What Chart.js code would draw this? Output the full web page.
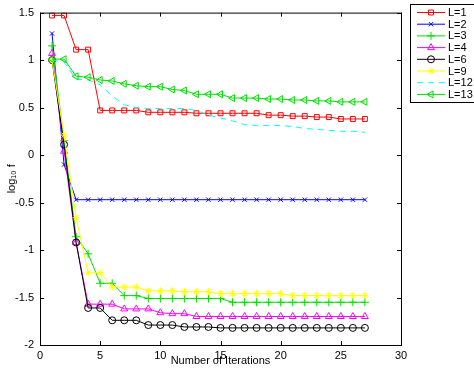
<!DOCTYPE html>
<html lang="en">
<head>
    <meta charset="UTF-8">
    <title>log10 f vs Number of Iterations</title>
    <script src="https://cdn.jsdelivr.net/npm/chart.js"></script>
    <style>
        body, html {
            margin: 0;
            padding: 0;
            width: 474px;
            height: 368px;
            overflow: hidden;
            background: #fff;
            font-family: "Liberation Sans", Arial, sans-serif;
        }
        #wrap { width: 474px; height: 368px; }
    </style>
</head>
<body>
<div id="wrap"><canvas id="iterChart"></canvas></div>
<script>
const iterations = [1,2,3,4,5,6,7,8,9,10,11,12,13,14,15,16,17,18,19,20,21,22,23,24,25,26,27];
const L1  = [1.47,1.47,1.11,1.11,0.47,0.47,0.47,0.47,0.45,0.45,0.45,0.45,0.44,0.44,0.44,0.44,0.44,0.44,0.42,0.42,0.41,0.41,0.40,0.40,0.38,0.38,0.38];
const L2  = [1.28,-0.10,-0.47,-0.47,-0.47,-0.47,-0.47,-0.47,-0.47,-0.47,-0.47,-0.47,-0.47,-0.47,-0.47,-0.47,-0.47,-0.47,-0.47,-0.47,-0.47,-0.47,-0.47,-0.47,-0.47,-0.47,-0.47];
const L3  = [1.15,0.15,-0.86,-1.04,-1.35,-1.35,-1.48,-1.48,-1.51,-1.51,-1.51,-1.51,-1.51,-1.51,-1.51,-1.55,-1.55,-1.55,-1.55,-1.55,-1.55,-1.55,-1.55,-1.55,-1.55,-1.55,-1.55];
const L4  = [1.07,0.04,-0.92,-1.57,-1.57,-1.57,-1.62,-1.62,-1.62,-1.66,-1.67,-1.67,-1.70,-1.70,-1.70,-1.70,-1.70,-1.70,-1.70,-1.70,-1.70,-1.70,-1.70,-1.70,-1.70,-1.70,-1.70];
const L6  = [1.00,0.11,-0.92,-1.61,-1.61,-1.74,-1.74,-1.74,-1.79,-1.79,-1.79,-1.81,-1.81,-1.81,-1.82,-1.82,-1.82,-1.82,-1.82,-1.82,-1.82,-1.82,-1.82,-1.82,-1.82,-1.82,-1.82];
const L9  = [1.00,0.21,-0.66,-1.24,-1.24,-1.39,-1.39,-1.39,-1.43,-1.43,-1.43,-1.44,-1.44,-1.44,-1.46,-1.46,-1.46,-1.46,-1.46,-1.46,-1.48,-1.48,-1.48,-1.48,-1.48,-1.48,-1.48];
const L12 = [1.00,0.98,0.80,0.79,0.74,0.62,0.53,0.50,0.49,0.49,0.49,0.49,0.47,0.42,0.39,0.36,0.32,0.31,0.31,0.31,0.30,0.28,0.27,0.26,0.25,0.25,0.24];
const L13 = [1.01,1.01,0.83,0.82,0.79,0.78,0.75,0.73,0.72,0.72,0.69,0.68,0.64,0.64,0.64,0.60,0.60,0.60,0.59,0.59,0.58,0.58,0.57,0.57,0.56,0.56,0.56];
const xTicks = [0,5,10,15,20,25,30];
const yTicks = [-2,-1.5,-1,-0.5,0,0.5,1,1.5];

const pts = vals => iterations.map((it, i) => ({ x: it, y: vals[i] }));

const series = [
    { label: 'L=1',  data: L1,  color: '#ff0000', style: 'rect',      fill: false, r: 3.5 },
    { label: 'L=2',  data: L2,  color: '#0000ff', style: 'crossRot',  fill: false, r: 3 },
    { label: 'L=3',  data: L3,  color: '#00dd00', style: 'cross',     fill: false, r: 4 },
    { label: 'L=4',  data: L4,  color: '#ff00ff', style: 'triangle',  fill: false, r: 4 },
    { label: 'L=6',  data: L6,  color: '#000000', style: 'circle',    fill: false, r: 3.5 },
    { label: 'L=9',  data: L9,  color: '#ffff00', style: 'star',      fill: true,  r: 3.5 },
    { label: 'L=12', data: L12, color: '#00ffff', style: false,       fill: false, r: 0, dash: [6, 5] },
    { label: 'L=13', data: L13, color: '#00dd00', style: 'triangle',  fill: false, r: 4, rot: -90 }
];

// matlab style box and inward ticks, plus a boxed legend
const matlabFrame = {
    id: 'matlabFrame',
    afterDraw(chart) {
        const ctx = chart.ctx;
        const a = chart.chartArea;
        const xs = chart.scales.x, ys = chart.scales.y;
        ctx.save();
        ctx.strokeStyle = '#000';
        ctx.lineWidth = 1;
        ctx.strokeRect(a.left + 0.5, a.top + 0.5, a.right - a.left, a.bottom - a.top);
        ctx.beginPath();
        xTicks.forEach(v => {
            const px = Math.round(xs.getPixelForValue(v)) + 0.5;
            ctx.moveTo(px, a.bottom); ctx.lineTo(px, a.bottom - 4);
            ctx.moveTo(px, a.top); ctx.lineTo(px, a.top + 4);
        });
        yTicks.forEach(v => {
            const py = Math.round(ys.getPixelForValue(v)) + 0.5;
            ctx.moveTo(a.left, py); ctx.lineTo(a.left + 4, py);
            ctx.moveTo(a.right, py); ctx.lineTo(a.right - 4, py);
        });
        ctx.stroke();

        // legend
        const lx = 410, ly = 4, lw = 70, lh = 98;
        ctx.fillStyle = '#fff';
        ctx.fillRect(lx + 0.5, ly + 0.5, lw, lh);
        ctx.strokeRect(lx + 0.5, ly + 0.5, lw, lh);
        ctx.font = '11px "Liberation Sans", Arial, sans-serif';
        ctx.textBaseline = 'middle';
        series.forEach((s, i) => {
            const y = 12.5 + i * 11.7;
            ctx.save();
            ctx.strokeStyle = s.color;
            ctx.lineWidth = 1;
            if (s.dash) ctx.setLineDash(s.dash);
            ctx.beginPath();
            ctx.moveTo(417, y); ctx.lineTo(445, y);
            ctx.stroke();
            ctx.restore();
            if (s.style) {
                ctx.save();
                ctx.strokeStyle = s.color;
                ctx.fillStyle = s.fill ? s.color : 'rgba(0,0,0,0)';
                ctx.lineWidth = 1;
                Chart.helpers.drawPoint(ctx, {
                    pointStyle: s.style, radius: s.r, rotation: s.rot || 0, borderWidth: 1
                }, 431, y);
                ctx.restore();
            }
            ctx.fillStyle = '#000';
            ctx.textAlign = 'left';
            ctx.fillText(s.label, 448, y + 0.5);
        });
        ctx.restore();
    }
};

Chart.defaults.font.family = '"Liberation Sans", Arial, sans-serif';
Chart.defaults.font.size = 11;
Chart.defaults.color = '#000';

new Chart(document.getElementById('iterChart'), {
    type: 'line',
    data: {
        datasets: series.map((s, i) => ({
            label: s.label,
            data: pts(s.data),
            borderColor: s.color,
            backgroundColor: s.fill ? s.color : 'rgba(0,0,0,0)',
            pointBorderColor: s.color,
            pointBackgroundColor: s.fill ? s.color : 'rgba(0,0,0,0)',
            pointStyle: s.style,
            pointRadius: s.r,
            pointRotation: s.rot || 0,
            pointBorderWidth: 1,
            borderWidth: 1,
            borderDash: s.dash || [],
            tension: 0,
            fill: false,
            order: series.length - i
        }))
    },
    options: {
        responsive: true,
        maintainAspectRatio: false,
        animation: false,
        layout: { padding: { left: 5, top: 5, right: 73, bottom: 0 } },
        plugins: {
            legend: { display: false },
            tooltip: { enabled: false }
        },
        scales: {
            x: {
                type: 'linear',
                min: 0, max: 30,
                grid: { display: false, drawTicks: false },
                border: { display: false },
                ticks: { stepSize: 5, padding: 4, maxRotation: 0 },
                title: { display: true, text: 'Number of Iterations', padding: { top: 0, bottom: 0 } },
                afterFit: s => { s.height = 23; }
            },
            y: {
                min: -2, max: 1.5,
                grid: { display: false, drawTicks: false },
                border: { display: false },
                ticks: { stepSize: 0.5, padding: 6, callback: v => String(v) },
                title: { display: true, text: 'log\u2081\u2080 f', padding: { top: 0, bottom: 0 } },
                afterFit: s => { s.width = 35; }
            }
        }
    },
    plugins: [matlabFrame]
});
</script>
</body>
</html>
